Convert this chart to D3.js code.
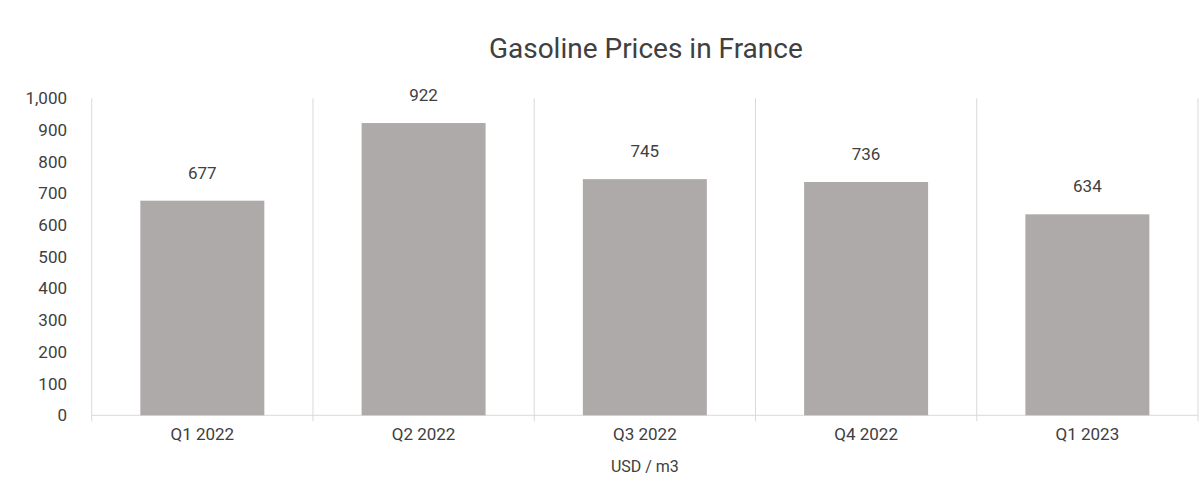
<!DOCTYPE html>
<html>
<head>
<meta charset="utf-8">
<script src="https://cdn.jsdelivr.net/npm/d3@7"></script>
<style>
  body { margin: 0; background: #fff; }
  text { font-family: Roboto, sans-serif; fill: #404040; }
</style>
</head>
<body>
<svg id="chart" width="1200" height="492"></svg>
<script>
const categories = ["Q1 2022", "Q2 2022", "Q3 2022", "Q4 2022", "Q1 2023"];
const prices = [677, 922, 745, 736, 634];
const yTicks = [0, 100, 200, 300, 400, 500, 600, 700, 800, 900, 1000];

const svg = d3.select("#chart");
const plotLeft = 91.7, plotRight = 1198, plotTop = 98.3, plotBottom = 415.3;

const x = d3.scaleBand().domain(categories).range([plotLeft, plotRight]).paddingInner(0).paddingOuter(0);
const y = d3.scaleLinear().domain([0, 1000]).range([plotBottom, plotTop]);
const barW = 124;

// vertical grid lines at band edges
const edges = categories.map(c => x(c)).concat([plotRight]);
svg.append("g")
  .selectAll("line")
  .data(edges)
  .join("line")
  .attr("x1", d => d).attr("x2", d => d)
  .attr("y1", plotTop).attr("y2", plotBottom + 6)
  .attr("stroke", "#d9d9d9");

svg.append("line")
  .attr("x1", plotLeft).attr("x2", plotRight)
  .attr("y1", plotBottom).attr("y2", plotBottom)
  .attr("stroke", "#d9d9d9");

svg.append("g")
  .selectAll("rect")
  .data(prices)
  .join("rect")
  .attr("x", (d, i) => x(categories[i]) + x.bandwidth() / 2 - barW / 2)
  .attr("width", barW)
  .attr("y", d => y(d))
  .attr("height", d => plotBottom - y(d))
  .attr("fill", "#aeaaa9");

svg.append("g")
  .style("font-size", "17px")
  .selectAll("text")
  .data(prices)
  .join("text")
  .attr("x", (d, i) => x(categories[i]) + x.bandwidth() / 2)
  .attr("y", d => y(d) - 22)
  .attr("text-anchor", "middle")
  .text(d => d);

svg.append("g")
  .style("font-size", "17px")
  .selectAll("text")
  .data(yTicks)
  .join("text")
  .attr("x", 67)
  .attr("y", d => y(d))
  .attr("dy", "0.35em")
  .attr("text-anchor", "end")
  .text(d => d3.format(",")(d));

svg.append("g")
  .style("font-size", "17px")
  .selectAll("text")
  .data(categories)
  .join("text")
  .attr("x", d => x(d) + x.bandwidth() / 2)
  .attr("y", 440)
  .attr("text-anchor", "middle")
  .text(d => d);

svg.append("text")
  .attr("x", (plotLeft + plotRight) / 2)
  .attr("y", 472)
  .attr("text-anchor", "middle")
  .style("font-size", "16px")
  .text("USD / m3");

svg.append("text")
  .attr("x", (plotLeft + plotRight) / 2 + 1)
  .attr("y", 58)
  .attr("text-anchor", "middle")
  .style("font-size", "28px")
  .text("Gasoline Prices in France");
</script>
</body>
</html>
